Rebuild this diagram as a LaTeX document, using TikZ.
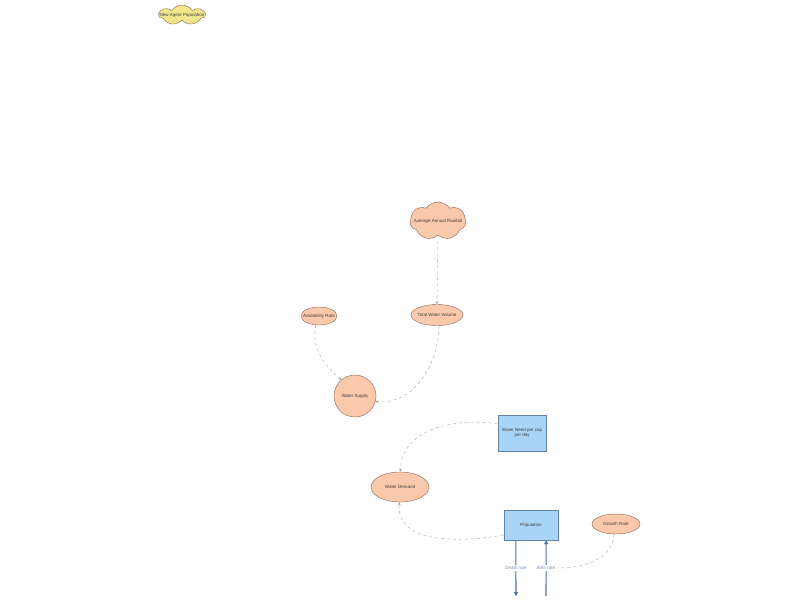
\documentclass[tikz,border=0pt]{standalone}
\usepackage{fontspec}
\setmainfont{Liberation Sans}
\usetikzlibrary{shapes.symbols,shapes.geometric,arrows.meta}
\definecolor{salmon}{RGB}{250,200,170}
\definecolor{salmonline}{RGB}{140,100,90}
\definecolor{skyfill}{RGB}{168,212,248}
\definecolor{skyline}{RGB}{100,130,165}
\definecolor{sandfill}{RGB}{240,230,140}
\definecolor{flowblue}{RGB}{80,110,165}
\tikzset{
  every node/.style={font=\fontsize{4.5}{5.5}\selectfont, text=black!75},
  aux/.style={draw=salmonline, fill=salmon, ellipse, inner sep=0pt},
  stock/.style={draw=skyline, fill=skyfill, rectangle, inner sep=0pt},
  source/.style={draw=salmonline, cloud, cloud puffs=7, cloud puff arc=110, cloud ignores aspect, inner sep=0pt},
  link/.style={draw=gray!70, dashed, thin, -{Stealth[length=3pt,width=3pt]}},
  flow/.style={draw=flowblue, line width=1.1pt, -{Triangle[length=4pt,width=4pt]}},
  flowlabel/.style={fill=white, inner sep=1pt, text=flowblue!80}
}
\begin{document}
\begin{tikzpicture}[x=1pt,y=-1pt]
\useasboundingbox (0,0) rectangle (800,600);
% clouds
\node[source, fill=sandfill, minimum width=46, minimum height=20] (newagent) at (182,15) {};
\node at (newagent) {New Agent Population};
\node[source, fill=salmon, minimum width=56, minimum height=38] (rainfall) at (438,221) {};
\node at (rainfall) {Average Annual Rainfall};
% auxiliaries
\node[aux, inner xsep=-4pt, minimum width=36, minimum height=18] (avail) at (319,316) {Availability Rate};
\node[aux, inner xsep=-2pt, minimum width=52, minimum height=21] (volume) at (437,315) {Total Water Volume};
\node[aux, circle, minimum size=42] (supply) at (355,396) {Water Supply};
\node[aux, minimum width=58, minimum height=30] (demand) at (400,487) {Water Demand};
\node[aux, minimum width=48, minimum height=20] (growth) at (616,524) {Growth Rate};
% stocks
\node[stock, minimum width=48, minimum height=36, align=center] (need) at (522,433) {Water Need per cap\\per day};
\node[stock, minimum width=54, minimum height=30] (pop) at (531,525) {Population};
% flows
\coordinate (deathend) at (516,596);
\coordinate (birthstart) at (546,596);
\draw[flow] ([xshift=12]pop.south west) -- node[flowlabel] (deathlbl) {Death rate} (deathend);
\draw[flow] (birthstart) -- node[flowlabel] (birthlbl) {Birth rate} ([xshift=-12]pop.south east);
% links
\draw[link] (rainfall.south) -- (volume.north);
\draw[link] (avail.250) to[out=-100,in=140] (supply.130);
\draw[link] (volume.-80) to[out=-90,in=-5] (supply.-15);
\draw[link] (need.west |- 0,424) to[out=170,in=90] (demand.88);
\draw[link] (pop.west |- 0,535) to[out=190,in=-95] (demand.-92);
\draw[link, -] (growth.-100) to[out=-95,in=0] (birthlbl.east);
\end{tikzpicture}
\end{document}
